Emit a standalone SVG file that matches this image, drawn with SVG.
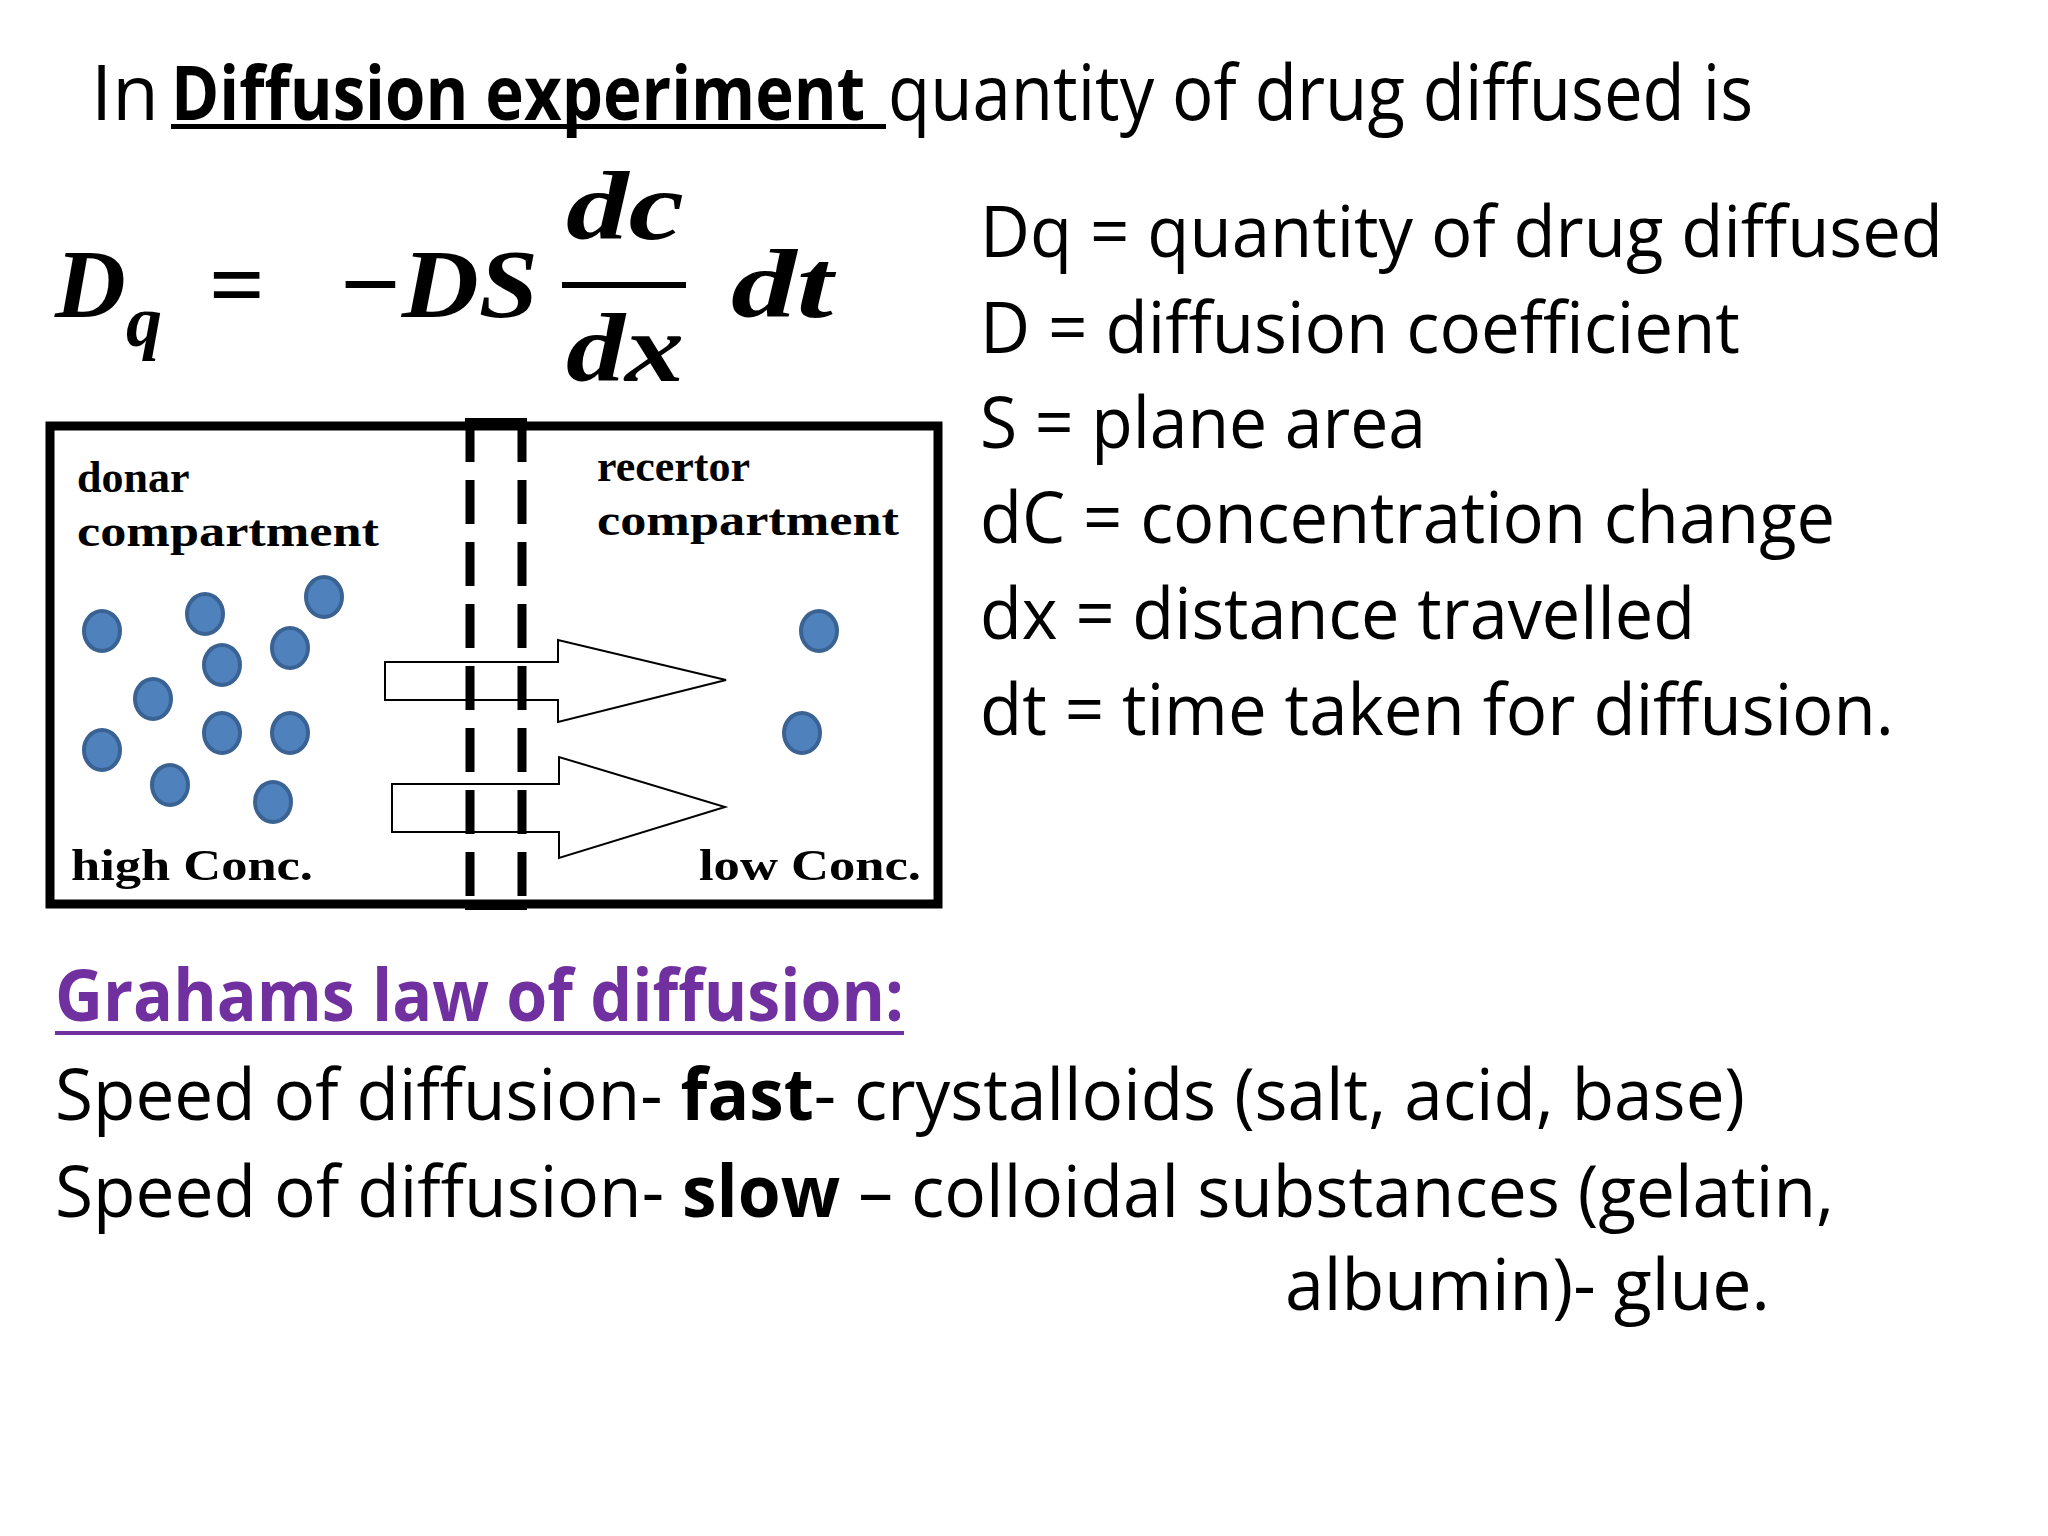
<svg xmlns="http://www.w3.org/2000/svg" width="2048" height="1536" viewBox="0 0 2048 1536">
<style>
.t{font-family:"Open Sans","Noto Sans",sans-serif;fill:#000}
.m{font-family:"Liberation Serif",serif;font-weight:bold;font-style:italic;fill:#000}
.b{font-family:"Liberation Serif",serif;font-weight:bold;fill:#000;font-size:44px}
.dot{fill:#4F81BD;stroke:#3A6394;stroke-width:4}
.arr{fill:#fff;stroke:#000;stroke-width:2}
.dash{stroke:#000;stroke-width:9;stroke-dasharray:44 18;fill:none}
</style>
<rect width="2048" height="1536" fill="#fff"/>
<g id="title" class="t" font-size="76">
<text x="91" y="120">In</text>
<text x="171" y="120" font-weight="bold" textLength="694" lengthAdjust="spacingAndGlyphs">Diffusion experiment</text>
<rect x="171" y="124" width="715" height="5" fill="#000"/>
<text x="888" y="120" textLength="865" lengthAdjust="spacingAndGlyphs">quantity of drug diffused is</text>
</g>
<g id="formula" class="m">
<text x="55" y="317" font-size="98">D</text>
<text x="126" y="346" font-size="72">q</text>
<text x="209" y="317" font-size="98" font-style="normal">=</text>
<text x="337" y="317" font-size="98" textLength="201" lengthAdjust="spacingAndGlyphs">−DS</text>
<text x="566" y="239" font-size="98" textLength="118" lengthAdjust="spacingAndGlyphs">dc</text>
<rect x="562" y="282" width="124" height="6" fill="#000"/>
<text x="566" y="381" font-size="98" textLength="118" lengthAdjust="spacingAndGlyphs">dx</text>
<text x="731" y="317" font-size="98" textLength="102" lengthAdjust="spacingAndGlyphs">dt</text>
</g>
<g id="legend" class="t" font-size="72">
<text x="980" y="257" textLength="963" lengthAdjust="spacingAndGlyphs">Dq = quantity of drug diffused</text>
<text x="980" y="353" textLength="760" lengthAdjust="spacingAndGlyphs">D = diffusion coefficient</text>
<text x="980" y="448" textLength="446" lengthAdjust="spacingAndGlyphs">S = plane area</text>
<text x="980" y="543" textLength="855" lengthAdjust="spacingAndGlyphs">dC = concentration change</text>
<text x="980" y="639" textLength="715" lengthAdjust="spacingAndGlyphs">dx = distance travelled</text>
<text x="980" y="735" textLength="914" lengthAdjust="spacingAndGlyphs">dt = time taken for diffusion.</text>
</g>
<g id="box">
<rect x="50" y="426" width="888" height="478" fill="#fff" stroke="#000" stroke-width="9"/>
</g>
<g id="arrows">
<polygon class="arr" points="385,662 558,662 558,640 726,680 558,722 558,700 385,700"/>
<polygon class="arr" points="392,784 559,784 559,757 725,807 559,858 559,832 392,832"/>
</g>
<g id="membrane">
<line class="dash" x1="470" y1="418" x2="470" y2="910"/>
<line class="dash" x1="522" y1="418" x2="522" y2="910"/>
<rect x="465" y="418" width="62" height="9" fill="#000"/>
<rect x="465" y="901" width="62" height="9" fill="#000"/>
</g>
<g id="dots">
<ellipse class="dot" cx="102" cy="631" rx="18" ry="20"/>
<ellipse class="dot" cx="205" cy="614" rx="18" ry="20"/>
<ellipse class="dot" cx="324" cy="597" rx="18" ry="20"/>
<ellipse class="dot" cx="290" cy="648" rx="18" ry="20"/>
<ellipse class="dot" cx="222" cy="665" rx="18" ry="20"/>
<ellipse class="dot" cx="153" cy="699" rx="18" ry="20"/>
<ellipse class="dot" cx="102" cy="750" rx="18" ry="20"/>
<ellipse class="dot" cx="222" cy="733" rx="18" ry="20"/>
<ellipse class="dot" cx="290" cy="733" rx="18" ry="20"/>
<ellipse class="dot" cx="170" cy="785" rx="18" ry="20"/>
<ellipse class="dot" cx="273" cy="802" rx="18" ry="20"/>
<ellipse class="dot" cx="819" cy="631" rx="18" ry="20"/>
<ellipse class="dot" cx="802" cy="733" rx="18" ry="20"/>
</g>
<g id="box-labels">
<text class="b" x="77" y="492">donar</text>
<text class="b" x="77" y="546" textLength="302" lengthAdjust="spacingAndGlyphs">compartment</text>
<text class="b" x="597" y="481">recertor</text>
<text class="b" x="597" y="535" textLength="302" lengthAdjust="spacingAndGlyphs">compartment</text>
<text class="b" x="71" y="880" textLength="242" lengthAdjust="spacingAndGlyphs">high Conc.</text>
<text class="b" x="699" y="880" textLength="222" lengthAdjust="spacingAndGlyphs">low Conc.</text>
</g>
<g id="grahams" class="t" font-size="72">
<text x="55" y="1021" font-weight="bold" fill="#7030A0" style="fill:#7030A0" textLength="849" lengthAdjust="spacingAndGlyphs">Grahams law of diffusion:</text>
<rect x="55" y="1031" width="849" height="4" fill="#7030A0"/>
<text x="55" y="1120" textLength="1690" lengthAdjust="spacingAndGlyphs">Speed of diffusion- <tspan font-weight="bold">fast</tspan>- crystalloids (salt, acid, base)</text>
<text x="55" y="1217" textLength="1779" lengthAdjust="spacingAndGlyphs">Speed of diffusion- <tspan font-weight="bold">slow</tspan> – colloidal substances (gelatin,</text>
<text x="1285" y="1310" textLength="485" lengthAdjust="spacingAndGlyphs">albumin)- glue.</text>
</g>
</svg>
